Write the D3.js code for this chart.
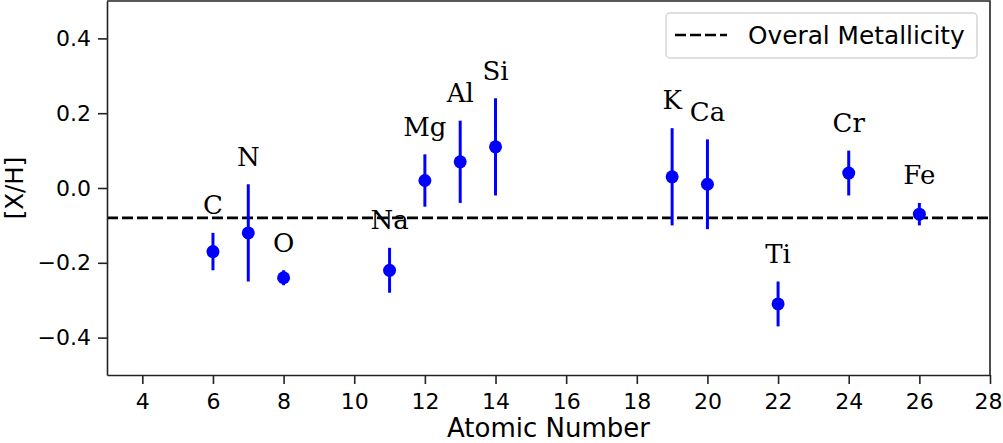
<!DOCTYPE html>
<html>
<head>
<meta charset="utf-8">
<script src="https://cdn.jsdelivr.net/npm/d3@7"></script>
<style>
  body { margin: 0; background: #fff; }
  svg { display: block; }
  .axis text { font-family: "DejaVu Sans", sans-serif; font-size: 22px; fill: #000; }
  .axis path, .axis line { stroke: #222; stroke-width: 1.6px; }
  .label { font-family: "DejaVu Sans", sans-serif; font-size: 26px; fill: #000; }
  .elem { font-family: "DejaVu Serif", serif; font-size: 26px; fill: #000; }
</style>
</head>
<body>
<script>
var margin = {top: 1, right: 13, bottom: 68, left: 107},
    width = 1003 - margin.left - margin.right,
    height = 443 - margin.top - margin.bottom;

// Element data
var elements = ["C", "N", "O", "Na", "Mg", "Al", "Si", "K", "Ca", "Ti", "Cr", "Fe"];
var atomicNumber = [6, 7, 8, 11, 12, 13, 14, 19, 20, 22, 24, 26];
var abundance = [-0.17, -0.12, -0.24, -0.22, 0.02, 0.07, 0.11, 0.03, 0.01, -0.31, 0.04, -0.07];
var abundanceErr = [0.05, 0.13, 0.02, 0.06, 0.07, 0.11, 0.13, 0.13, 0.12, 0.06, 0.06, 0.03];
var metallicity = -0.08;
var xTicks = [4, 6, 8, 10, 12, 14, 16, 18, 20, 22, 24, 26, 28];
var yTicks = [-0.4, -0.2, 0.0, 0.2, 0.4];

var data = elements.map(function(e, i) {
  return {name: e, z: atomicNumber[i], v: abundance[i], err: abundanceErr[i]};
});

var x = d3.scaleLinear().domain([3, 28]).range([0, width]),
    y = d3.scaleLinear().domain([-0.5, 0.5]).range([height, 0]);

var svg = d3.select("body").append("svg")
    .attr("width", width + margin.left + margin.right)
    .attr("height", height + margin.top + margin.bottom)
  .append("g")
    .attr("transform", "translate(" + margin.left + "," + margin.top + ")");

// overall metallicity line
svg.append("line")
    .attr("x1", 0)
    .attr("x2", width)
    .attr("y1", y(metallicity))
    .attr("y2", y(metallicity))
    .style("stroke", "#000")
    .style("stroke-width", 2.6)
    .style("stroke-dasharray", "11,4");

// error bars
svg.selectAll(".err")
    .data(data)
  .enter().append("line")
    .attr("class", "err")
    .attr("x1", function(d) { return x(d.z); })
    .attr("x2", function(d) { return x(d.z); })
    .attr("y1", function(d) { return y(d.v - d.err); })
    .attr("y2", function(d) { return y(d.v + d.err); })
    .style("stroke", "#0000ff")
    .style("stroke-width", 3);

svg.selectAll(".dot")
    .data(data)
  .enter().append("circle")
    .attr("class", "dot")
    .attr("cx", function(d) { return x(d.z); })
    .attr("cy", function(d) { return y(d.v); })
    .attr("r", 6.5)
    .style("fill", "#0000ff");

// element names above each bar
svg.selectAll(".elem")
    .data(data)
  .enter().append("text")
    .attr("class", "elem")
    .attr("x", function(d) { return x(d.z); })
    .attr("y", function(d) { return y(d.v + d.err + 0.05); })
    .attr("text-anchor", "middle")
    .text(function(d) { return d.name; });

// axes
var xAxis = svg.append("g")
    .attr("class", "x axis")
    .attr("transform", "translate(0," + height + ")")
    .call(d3.axisBottom(x).tickValues(xTicks).tickSize(9).tickSizeOuter(0).tickPadding(9));

// keep the last tick label inside the window
xAxis.selectAll(".tick:last-of-type text").attr("dx", "-2");

svg.append("g")
    .attr("class", "y axis")
    .call(d3.axisLeft(y).tickValues(yTicks).tickSize(9).tickSizeOuter(0).tickPadding(7)
      .tickFormat(function(d) { return d3.format(".1f")(d).replace("-", "\u2212"); }));

// top and right spines
svg.append("path")
    .attr("d", "M0,0H" + width + "V" + height)
    .style("fill", "none")
    .style("stroke", "#222")
    .style("stroke-width", 1.6);

svg.append("text")
    .attr("class", "label")
    .attr("x", width / 2)
    .attr("y", height + 62)
    .attr("text-anchor", "middle")
    .text("Atomic Number");

svg.append("text")
    .attr("class", "label")
    .attr("transform", "rotate(-90)")
    .attr("x", -height / 2)
    .attr("y", -margin.left + 23)
    .attr("text-anchor", "middle")
    .style("font-size", "24.5px")
    .text("[X/H]");

// legend
var legend = svg.append("g")
    .attr("transform", "translate(" + (width - 324) + ",12)");

legend.append("rect")
    .attr("width", 311)
    .attr("height", 45)
    .attr("rx", 4)
    .style("fill", "#fff")
    .style("stroke", "#d5d5d5")
    .style("stroke-width", 1.5);

legend.append("line")
    .attr("x1", 9)
    .attr("x2", 61)
    .attr("y1", 22)
    .attr("y2", 22)
    .style("stroke", "#000")
    .style("stroke-width", 2.6)
    .style("stroke-dasharray", "11,4");

legend.append("text")
    .attr("class", "label")
    .attr("x", 82)
    .attr("y", 22)
    .attr("dy", ".35em")
    .style("font-size", "24.8px")
    .text("Overal Metallicity");
</script>
</body>
</html>
